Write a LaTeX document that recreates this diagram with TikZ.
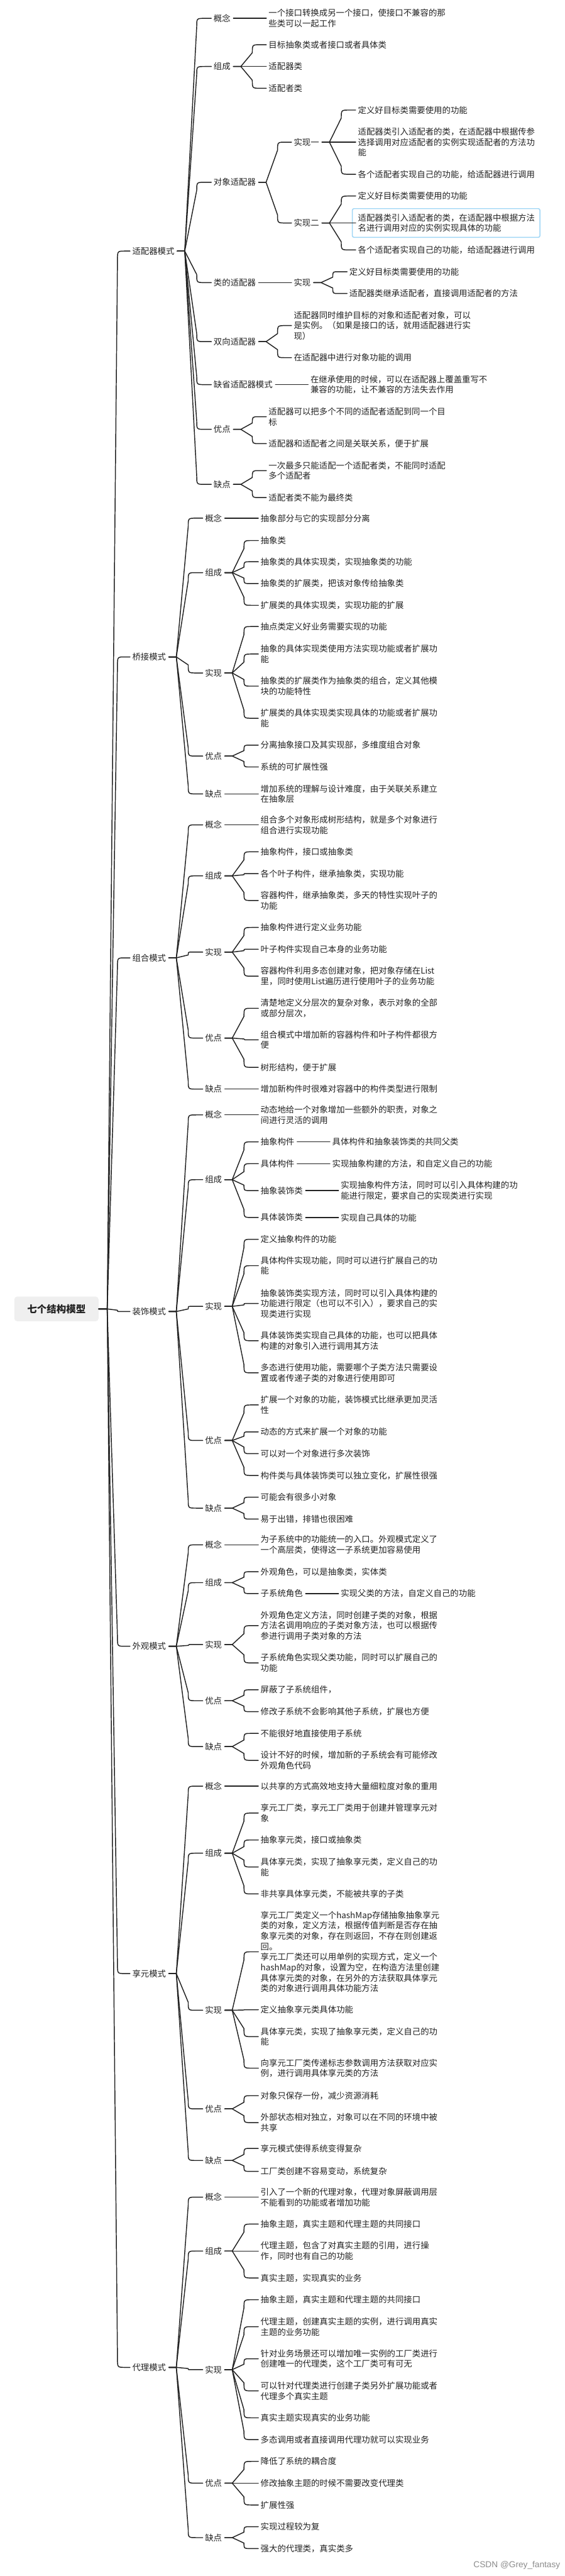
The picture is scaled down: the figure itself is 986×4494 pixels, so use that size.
\documentclass[tikz,border=0pt]{standalone}
\usepackage{fontspec}
\setmainfont{Noto Sans CJK SC}
\newfontfamily\wmfont{Liberation Sans}
\usetikzlibrary{calc}
\definecolor{ink}{HTML}{222222}
\definecolor{hlblue}{HTML}{9FD6F6}
\definecolor{rootbg}{HTML}{EFEFEF}
\newcommand\fs{\fontsize{14.7}{18.3}\selectfont}
\tikzset{
 t/.style={anchor=west, inner sep=0pt, outer sep=0pt, align=left, font=\fs, text=ink},
 conn/.style={line width=1.6pt, draw=ink, line join=round, line cap=round},
 hl/.style={draw=hlblue, line width=1.6pt, rounded corners=3pt}
}
\newcommand\nd[4]{\node[t] (#1) at (#2,#3) {#4};}
\newcommand\lkg[4]{%
 \draw[conn] let \p1=(#3.east), \p2=(#4.west),
   \n1={\x1+#1}, \n2={\x1+#2}, \n3={\x2-4pt},
   \n4={\y2-\y1}, \n5={min(abs(\n4)/2,14pt)},
   \n6={\n2+0.45*(\n3-\n2)}, \n7={(\n4)/max(abs(\n4),0.001pt)}
 in ({\n1},\y1) -- ({\n2},\y1) -- ({\n6},{\y2-(\n7)*(\n5)})
   .. controls ({\n6},\y2) .. ({\n6+\n5},\y2) -- ({\n3},\y2);}
\newcommand\lks[2]{\foreach \cc in {#2} {\lkg{5pt}{18pt}{#1}{\cc}}}
\newcommand\rlk[1]{\lkg{0pt}{15pt}{root}{#1}}
\begin{document}
\begin{tikzpicture}[x=1pt,y=-1pt]
\fill[white] (0,0) rectangle (986,4494);
\useasboundingbox (0,0) rectangle (986,4494);

\node[fill=rootbg, rounded corners=5pt, minimum width=147pt, minimum height=43pt, inner sep=0pt,
  font=\fontsize{17}{20}\selectfont\bfseries, text=ink] (root) at (98.5,2283.5) {七个结构模型};

% ---------- 适配器模式
\nd{A}{231}{438}{适配器模式}
\nd{Aa}{373}{32}{概念}
\nd{Aa1}{469}{32}{一个接口转换成另一个接口，使接口不兼容的那\\些类可以一起工作}
\nd{Ab}{373}{116}{组成}
\nd{Ab1}{469}{78}{目标抽象类或者接口或者具体类}
\nd{Ab2}{469}{116}{适配器类}
\nd{Ab3}{469}{154}{适配者类}
\nd{Ac}{373}{318}{对象适配器}
\nd{Ac1}{513}{248}{实现一}
\nd{Ac11}{625}{192}{定义好目标类需要使用的功能}
\nd{Ac12}{625}{248}{适配器类引入适配者的类，在适配器中根据传参\\选择调用对应适配者的实例实现适配者的方法功\\能}
\nd{Ac13}{625}{304}{各个适配者实现自己的功能，给适配器进行调用}
\nd{Ac2}{513}{389}{实现二}
\nd{Ac21}{625}{342}{定义好目标类需要使用的功能}
\nd{Ac22}{625}{389}{适配器类引入适配者的类，在适配器中根据方法\\名进行调用对应的实例实现具体的功能}
\nd{Ac23}{625}{436}{各个适配者实现自己的功能，给适配器进行调用}
\nd{Ad}{373}{493}{类的适配器}
\nd{Ad1}{513}{493}{实现}
\nd{Ad11}{610}{474}{定义好目标类需要使用的功能}
\nd{Ad12}{610}{512}{适配器类继承适配者，直接调用适配者的方法}
\nd{Ae}{373}{596}{双向适配器}
\nd{Ae1}{513}{568}{适配器同时维护目标的对象和适配者对象，可以\\是实例。（如果是接口的话，就用适配器进行实\\现）}
\nd{Ae2}{513}{624}{在适配器中进行对象功能的调用}
\nd{Af}{373}{671}{缺省适配器模式}
\nd{Af1}{542}{671}{在继承使用的时候，可以在适配器上覆盖重写不\\兼容的功能，让不兼容的方法失去作用}
\nd{Ag}{373}{749}{优点}
\nd{Ag1}{469}{727}{适配器可以把多个不同的适配者适配到同一个目\\标}
\nd{Ag2}{469}{774}{适配器和适配者之间是关联关系，便于扩展}
\nd{Ah}{373}{845}{缺点}
\nd{Ah1}{469}{821}{一次最多只能适配一个适配者类，不能同时适配\\多个适配者}
\nd{Ah2}{469}{868}{适配者类不能为最终类}
\draw[hl] ([xshift=-10pt,yshift=9pt]Ac22.north west) rectangle ([xshift=9pt,yshift=-9pt]Ac22.south east);

% ---------- 桥接模式
\nd{B}{231}{1146}{桥接模式}
\nd{Ba}{358}{904}{概念}
\nd{Ba1}{455}{904}{抽象部分与它的实现部分分离}
\nd{Bb}{358}{999}{组成}
\nd{Bb1}{455}{943}{抽象类}
\nd{Bb2}{455}{980}{抽象类的具体实现类，实现抽象类的功能}
\nd{Bb3}{455}{1018}{抽象类的扩展类，把该对象传给抽象类}
\nd{Bb4}{455}{1056}{扩展类的具体实现类，实现功能的扩展}
\nd{Bc}{358}{1174}{实现}
\nd{Bc1}{455}{1093}{抽点类定义好业务需要实现的功能}
\nd{Bc2}{455}{1141}{抽象的具体实现类使用方法实现功能或者扩展功\\能}
\nd{Bc3}{455}{1197}{抽象类的扩展类作为抽象类的组合，定义其他模\\块的功能特性}
\nd{Bc4}{455}{1253}{扩展类的具体实现类实现具体的功能或者扩展功\\能}
\nd{Bd}{358}{1319}{优点}
\nd{Bd1}{455}{1300}{分离抽象接口及其实现部，多维度组合对象}
\nd{Bd2}{455}{1338}{系统的可扩展性强}
\nd{Be}{358}{1385}{缺点}
\nd{Be1}{455}{1385}{增加系统的理解与设计难度，由于关联关系建立\\在抽象层}

% ---------- 组合模式
\nd{C}{231}{1671}{组合模式}
\nd{Ca}{358}{1439}{概念}
\nd{Ca1}{455}{1439}{组合多个对象形成树形结构，就是多个对象进行\\组合进行实现功能}
\nd{Cb}{358}{1528}{组成}
\nd{Cb1}{455}{1486}{抽象构件，接口或抽象类}
\nd{Cb2}{455}{1524}{各个叶子构件，继承抽象类，实现功能}
\nd{Cb3}{455}{1571}{容器构件，继承抽象类，多天的特性实现叶子的\\功能}
\nd{Cc}{358}{1661}{实现}
\nd{Cc1}{455}{1618}{抽象构件进行定义业务功能}
\nd{Cc2}{455}{1656}{叶子构件实现自己本身的业务功能}
\nd{Cc3}{455}{1703}{容器构件利用多态创建对象，把对象存储在List\\里，同时使用List遍历进行使用叶子的业务功能}
\nd{Cd}{358}{1811}{优点}
\nd{Cd1}{455}{1759}{清楚地定义分层次的复杂对象，表示对象的全部\\或部分层次，}
\nd{Cd2}{455}{1814}{组合模式中增加新的容器构件和叶子构件都很方\\便}
\nd{Cd3}{455}{1862}{树形结构，便于扩展}
\nd{Ce}{358}{1900}{缺点}
\nd{Ce1}{455}{1900}{增加新构件时很难对容器中的构件类型进行限制}

% ---------- 装饰模式
\nd{D}{231}{2288}{装饰模式}
\nd{Da}{358}{1945}{概念}
\nd{Da1}{455}{1945}{动态地给一个对象增加一些额外的职责，对象之\\间进行灵活的调用}
\nd{Db}{358}{2058}{组成}
\nd{Db1}{455}{1992}{抽象构件}
\nd{Db11}{580}{1992}{具体构件和抽象装饰类的共同父类}
\nd{Db2}{455}{2030}{具体构件}
\nd{Db21}{580}{2030}{实现抽象构建的方法，和自定义自己的功能}
\nd{Db3}{455}{2077}{抽象装饰类}
\nd{Db31}{595}{2077}{实现抽象构件方法，同时可以引入具体构建的功\\能进行限定，要求自己的实现类进行实现}
\nd{Db4}{455}{2124}{具体装饰类}
\nd{Db41}{595}{2124}{实现自己具体的功能}
\nd{Dc}{358}{2279}{实现}
\nd{Dc1}{455}{2162}{定义抽象构件的功能}
\nd{Dc2}{455}{2208}{具体构件实现功能，同时可以进行扩展自己的功\\能}
\nd{Dc3}{455}{2274}{抽象装饰类实现方法，同时可以引入具体构建的\\功能进行限定（也可以不引入），要求自己的实\\现类进行实现}
\nd{Dc4}{455}{2339}{具体装饰类实现自己具体的功能，也可以把具体\\构建的对象引入进行调用其方法}
\nd{Dc5}{455}{2395}{多态进行使用功能，需要哪个子类方法只需要设\\置或者传递子类的对象进行使用即可}
\nd{Dd}{358}{2513}{优点}
\nd{Dd1}{455}{2451}{扩展一个对象的功能，装饰模式比继承更加灵活\\性}
\nd{Dd2}{455}{2498}{动态的方式来扩展一个对象的功能}
\nd{Dd3}{455}{2536}{可以对一个对象进行多次装饰}
\nd{Dd4}{455}{2574}{构件类与具体装饰类可以独立变化，扩展性很强}
\nd{De}{358}{2631}{缺点}
\nd{De1}{455}{2612}{可能会有很多小对象}
\nd{De2}{455}{2650}{易于出错，排错也很困难}

% ---------- 外观模式
\nd{E}{231}{2872}{外观模式}
\nd{Ea}{358}{2695}{概念}
\nd{Ea1}{455}{2695}{为子系统中的功能统一的入口。外观模式定义了\\一个高层类，使得这一子系统更加容易使用}
\nd{Eb}{358}{2761}{组成}
\nd{Eb1}{455}{2742}{外观角色，可以是抽象类，实体类}
\nd{Eb2}{455}{2780}{子系统角色}
\nd{Eb21}{595}{2780}{实现父类的方法，自定义自己的功能}
\nd{Ec}{358}{2869}{实现}
\nd{Ec1}{455}{2836}{外观角色定义方法，同时创建子类的对象，根据\\方法名调用响应的子类对象方法，也可以根据传\\参进行调用子类对象的方法}
\nd{Ec2}{455}{2901}{子系统角色实现父类功能，同时可以扩展自己的\\功能}
\nd{Ed}{358}{2967}{优点}
\nd{Ed1}{455}{2948}{屏蔽了子系统组件，}
\nd{Ed2}{455}{2986}{修改子系统不会影响其他子系统，扩展也方便}
\nd{Ee}{358}{3047}{缺点}
\nd{Ee1}{455}{3024}{不能很好地直接使用子系统}
\nd{Ee2}{455}{3071}{设计不好的时候，增加新的子系统会有可能修改\\外观角色代码}

% ---------- 享元模式
\nd{F}{231}{3443}{享元模式}
\nd{Fa}{358}{3116}{概念}
\nd{Fa1}{455}{3116}{以共享的方式高效地支持大量细粒度对象的重用}
\nd{Fb}{358}{3233}{组成}
\nd{Fb1}{455}{3163}{享元工厂类，享元工厂类用于创建并管理享元对\\象}
\nd{Fb2}{455}{3210}{抽象享元类，接口或抽象类}
\nd{Fb3}{455}{3257}{具体享元类，实现了抽象享元类，定义自己的功\\能}
\nd{Fb4}{455}{3304}{非共享具体享元类，不能被共享的子类}
\nd{Fc}{358}{3507}{实现}
\nd{Fc1}{455}{3405}{享元工厂类定义一个hashMap存储抽象抽象享元\\类的对象，定义方法，根据传值判断是否存在抽\\象享元类的对象，存在则返回，不存在则创建返\\回。\\享元工厂类还可以用单例的实现方式，定义一个\\hashMap的对象，设置为空，在构造方法里创建\\具体享元类的对象，在另外的方法获取具体享元\\类的对象进行调用具体功能方法}
\nd{Fc2}{455}{3506}{定义抽象享元类具体功能}
\nd{Fc3}{455}{3553}{具体享元类，实现了抽象享元类，定义自己的功\\能}
\nd{Fc4}{455}{3608}{向享元工厂类传递标志参数调用方法获取对应实\\例，进行调用具体享元类的方法}
\nd{Fd}{358}{3679}{优点}
\nd{Fd1}{455}{3656}{对象只保存一份，减少资源消耗}
\nd{Fd2}{455}{3703}{外部状态相对独立，对象可以在不同的环境中被\\共享}
\nd{Fe}{358}{3769}{缺点}
\nd{Fe1}{455}{3748}{享元模式使得系统变得复杂}
\nd{Fe2}{455}{3788}{工厂类创建不容易变动，系统复杂}

% ---------- 代理模式
\nd{G}{231}{4130}{代理模式}
\nd{Ga}{358}{3833}{概念}
\nd{Ga1}{455}{3833}{引入了一个新的代理对象，代理对象屏蔽调用层\\不能看到的功能或者增加功能}
\nd{Gb}{358}{3927}{组成}
\nd{Gb1}{455}{3880}{抽象主题，真实主题和代理主题的共同接口}
\nd{Gb2}{455}{3927}{代理主题，包含了对真实主题的引用，进行操\\作，同时也有自己的功能}
\nd{Gb3}{455}{3974}{真实主题，实现真实的业务}
\nd{Gc}{358}{4134}{实现}
\nd{Gc1}{455}{4012}{抽象主题，真实主题和代理主题的共同接口}
\nd{Gc2}{455}{4059}{代理主题，创建真实主题的实例，进行调用真实\\主题的业务功能}
\nd{Gc3}{455}{4115}{针对业务场景还可以增加唯一实例的工厂类进行\\创建唯一的代理类，这个工厂类可有可无}
\nd{Gc4}{455}{4171}{可以针对代理类进行创建子类另外扩展功能或者\\代理多个真实主题}
\nd{Gc5}{455}{4218}{真实主题实现真实的业务功能}
\nd{Gc6}{455}{4256}{多态调用或者直接调用代理功就可以实现业务}
\nd{Gd}{358}{4332}{优点}
\nd{Gd1}{455}{4294}{降低了系统的耦合度}
\nd{Gd2}{455}{4332}{修改抽象主题的时候不需要改变代理类}
\nd{Gd3}{455}{4370}{扩展性强}
\nd{Ge}{358}{4427}{缺点}
\nd{Ge1}{455}{4408}{实现过程较为复}
\nd{Ge2}{455}{4446}{强大的代理类，真实类多}

\node[anchor=east, inner sep=0pt, text=black!45, font=\wmfont\fontsize{15}{18}\selectfont] (wm) at (978,4475) {CSDN @Grey\_fantasy};

% ---------- connectors
\rlk{A}\rlk{B}\rlk{C}\rlk{D}\rlk{E}\rlk{F}\rlk{G}
\lks{A}{Aa,Ab,Ac,Ad,Ae,Af,Ag,Ah}
\lks{Aa}{Aa1}
\lks{Ab}{Ab1,Ab2,Ab3}
\lks{Ac}{Ac1,Ac2}
\lks{Ac1}{Ac11,Ac12,Ac13}
\lks{Ac2}{Ac21,Ac22,Ac23}
\lks{Ad}{Ad1}
\lks{Ad1}{Ad11,Ad12}
\lks{Ae}{Ae1,Ae2}
\lks{Af}{Af1}
\lks{Ag}{Ag1,Ag2}
\lks{Ah}{Ah1,Ah2}

\lks{B}{Ba,Bb,Bc,Bd,Be}
\lks{Ba}{Ba1}
\lks{Bb}{Bb1,Bb2,Bb3,Bb4}
\lks{Bc}{Bc1,Bc2,Bc3,Bc4}
\lks{Bd}{Bd1,Bd2}
\lks{Be}{Be1}

\lks{C}{Ca,Cb,Cc,Cd,Ce}
\lks{Ca}{Ca1}
\lks{Cb}{Cb1,Cb2,Cb3}
\lks{Cc}{Cc1,Cc2,Cc3}
\lks{Cd}{Cd1,Cd2,Cd3}
\lks{Ce}{Ce1}

\lks{D}{Da,Db,Dc,Dd,De}
\lks{Da}{Da1}
\lks{Db}{Db1,Db2,Db3,Db4}
\lks{Db1}{Db11}
\lks{Db2}{Db21}
\lks{Db3}{Db31}
\lks{Db4}{Db41}
\lks{Dc}{Dc1,Dc2,Dc3,Dc4,Dc5}
\lks{Dd}{Dd1,Dd2,Dd3,Dd4}
\lks{De}{De1,De2}

\lks{E}{Ea,Eb,Ec,Ed,Ee}
\lks{Ea}{Ea1}
\lks{Eb}{Eb1,Eb2}
\lks{Eb2}{Eb21}
\lks{Ec}{Ec1,Ec2}
\lks{Ed}{Ed1,Ed2}
\lks{Ee}{Ee1,Ee2}

\lks{F}{Fa,Fb,Fc,Fd,Fe}
\lks{Fa}{Fa1}
\lks{Fb}{Fb1,Fb2,Fb3,Fb4}
\lks{Fc}{Fc1,Fc2,Fc3,Fc4}
\lks{Fd}{Fd1,Fd2}
\lks{Fe}{Fe1,Fe2}

\lks{G}{Ga,Gb,Gc,Gd,Ge}
\lks{Ga}{Ga1}
\lks{Gb}{Gb1,Gb2,Gb3}
\lks{Gc}{Gc1,Gc2,Gc3,Gc4,Gc5,Gc6}
\lks{Gd}{Gd1,Gd2,Gd3}
\lks{Ge}{Ge1,Ge2}
\end{tikzpicture}
\end{document}
